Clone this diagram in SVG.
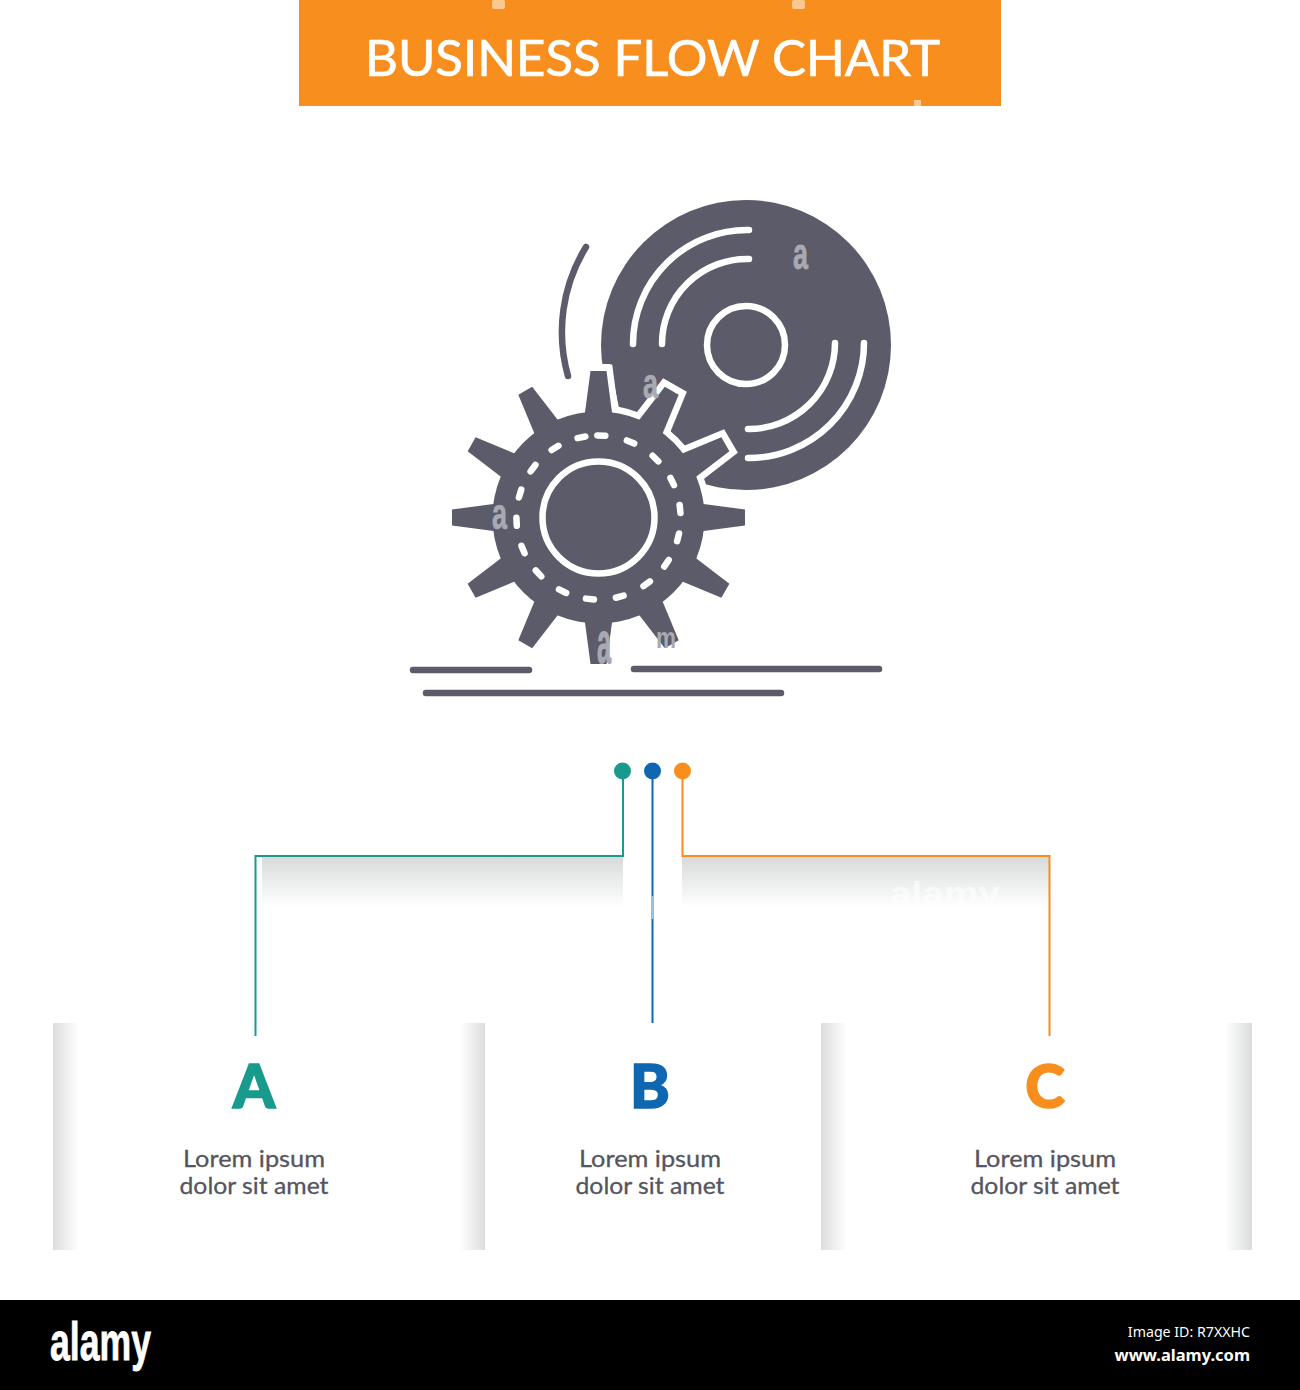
<svg xmlns="http://www.w3.org/2000/svg" xmlns:xlink="http://www.w3.org/1999/xlink" width="1300" height="1390" viewBox="0 0 1300 1390">
<style>
.body{font-family:"Lato","Open Sans","Liberation Sans",sans-serif;font-size:24px;fill:#55555f;stroke:#55555f;stroke-width:.3;text-anchor:middle}
.letter{font-family:"Lato","Liberation Sans",sans-serif;font-weight:900;font-size:60px;stroke-width:1.600;text-anchor:middle}
.icon{fill:#5b5b69}
.cut{fill:none;stroke:#fff;stroke-width:6.500;stroke-linecap:round}
.ink{fill:none;stroke:#5b5b69;stroke-width:6.500;stroke-linecap:round}
.wire{fill:none;stroke-width:2}
.mark{font-family:"Liberation Sans",sans-serif;font-weight:700;font-size:30px;fill:#a9a9b3}
.foot{font-family:"Noto Sans","Open Sans",sans-serif;fill:#fff;text-anchor:end}
</style>
<defs>
<linearGradient id="gl" x1="0" x2="1" y1="0" y2="0"><stop offset="0" stop-color="#dcdddd"/><stop offset="1" stop-color="#fff"/></linearGradient>
<linearGradient id="gr" x1="0" x2="1" y1="0" y2="0"><stop offset="0" stop-color="#fff"/><stop offset="1" stop-color="#dcdddd"/></linearGradient>
<linearGradient id="gd" x1="0" x2="0" y1="0" y2="1"><stop offset="0" stop-color="#d8dada"/><stop offset="1" stop-color="#fff"/></linearGradient>
<polygon id="tooth" points="584,420 590.500,371 606.500,371 613,420"/>
<g id="gearshape">
<circle cx="598.500" cy="517.500" r="106"/>
<use xlink:href="#tooth"/>
<use xlink:href="#tooth" transform="rotate(30 598.500 517.500)"/>
<use xlink:href="#tooth" transform="rotate(60 598.500 517.500)"/>
<use xlink:href="#tooth" transform="rotate(90 598.500 517.500)"/>
<use xlink:href="#tooth" transform="rotate(120 598.500 517.500)"/>
<use xlink:href="#tooth" transform="rotate(150 598.500 517.500)"/>
<use xlink:href="#tooth" transform="rotate(180 598.500 517.500)"/>
<use xlink:href="#tooth" transform="rotate(210 598.500 517.500)"/>
<use xlink:href="#tooth" transform="rotate(240 598.500 517.500)"/>
<use xlink:href="#tooth" transform="rotate(270 598.500 517.500)"/>
<use xlink:href="#tooth" transform="rotate(300 598.500 517.500)"/>
<use xlink:href="#tooth" transform="rotate(330 598.500 517.500)"/>
</g>
<line id="dash" x1="594.500" y1="435.500" x2="602.500" y2="435.500"/>
</defs>
<rect width="1300" height="1390" fill="#fff"/>
<g id="banner">
<rect x="299" y="0" width="702" height="106" fill="#f78e1e"/>
<rect x="492" y="0" width="13" height="9" rx="2" fill="#fbc98f"/>
<rect x="792" y="0" width="13" height="9" rx="2" fill="#fbc98f"/>
<rect x="914" y="100" width="7" height="6" fill="#fbc98f"/>
<text x="652.500" y="76" font-family="Lato,'Open Sans',sans-serif" font-size="50" fill="#fff" stroke="#fff" stroke-width=".7" text-anchor="middle" textLength="575" lengthAdjust="spacingAndGlyphs">BUSINESS FLOW CHART</text>
</g>
<g id="illustration">
<circle class="icon" cx="746" cy="345" r="145"/>
<polygon points="590,364 610,364 619,408 590,420" fill="#fff"/>
<circle class="cut" cx="746" cy="345" r="39"/>
<path class="cut" d="M749 230A114 114 0 0 0 633 344"/>
<path class="cut" d="M749 259A85 85 0 0 0 662 344"/>
<path class="cut" d="M835 343A86 86 0 0 1 748 429"/>
<path class="cut" d="M864 343A115 115 0 0 1 748 458"/>
<path class="ink" d="M586 247A162 162 0 0 0 568 376"/>
<use xlink:href="#gearshape" fill="#fff" stroke="#fff" stroke-width="13" stroke-linejoin="miter"/>
<use xlink:href="#gearshape" class="icon"/>
<circle class="cut" cx="598.500" cy="517.500" r="56"/>
<g class="cut">
<use xlink:href="#dash" transform="rotate(-12 598.500 517.500)"/>
<use xlink:href="#dash" transform="rotate(2 598.500 517.500)"/>
<use xlink:href="#dash" transform="rotate(23 598.500 517.500)"/>
<use xlink:href="#dash" transform="rotate(44 598.500 517.500)"/>
<use xlink:href="#dash" transform="rotate(64 598.500 517.500)"/>
<use xlink:href="#dash" transform="rotate(84 598.500 517.500)"/>
<use xlink:href="#dash" transform="rotate(104 598.500 517.500)"/>
<use xlink:href="#dash" transform="rotate(124 598.500 517.500)"/>
<use xlink:href="#dash" transform="rotate(144 598.500 517.500)"/>
<use xlink:href="#dash" transform="rotate(165 598.500 517.500)"/>
<use xlink:href="#dash" transform="rotate(186 598.500 517.500)"/>
<use xlink:href="#dash" transform="rotate(206 598.500 517.500)"/>
<use xlink:href="#dash" transform="rotate(227 598.500 517.500)"/>
<use xlink:href="#dash" transform="rotate(247 598.500 517.500)"/>
<use xlink:href="#dash" transform="rotate(267 598.500 517.500)"/>
<use xlink:href="#dash" transform="rotate(287 598.500 517.500)"/>
<use xlink:href="#dash" transform="rotate(307 598.500 517.500)"/>
<use xlink:href="#dash" transform="rotate(328 598.500 517.500)"/>
</g>
<rect x="400" y="664.500" width="490" height="10" fill="#fff"/>
<path class="ink" d="M413 670H529M634 669H879M426 693H781"/>
<text class="mark" transform="translate(793 269) scale(.9 1.500)" stroke="#a9a9b3" stroke-width=".5">a</text>
<text class="mark" transform="translate(643 398) scale(.9 1.400)" stroke="#a9a9b3" stroke-width=".5">a</text>
<text class="mark" transform="translate(492 529) scale(.9 1.450)" stroke="#a9a9b3" stroke-width=".5">a</text>
<text class="mark" transform="translate(597 663) scale(.85 2)" stroke="#a9a9b3" stroke-width=".5">a</text>
<text class="mark" transform="translate(656 648) scale(.75 1)">m</text>
</g>
<g id="shades">
<rect x="262" y="857" width="361" height="50" fill="url(#gd)"/>
<rect x="682" y="857" width="367" height="50" fill="url(#gd)"/>
<text x="890" y="905" font-family="'Liberation Sans',sans-serif" font-weight="700" font-size="34" fill="#fff" fill-opacity=".6" textLength="110" lengthAdjust="spacingAndGlyphs">alamy</text>
</g>
<g id="connectors">
<path class="wire" stroke="#189a8c" d="M623 771V856H255.500V1036"/>
<path class="wire" stroke="#0f67b1" stroke-width="1.600" d="M652.500 771V1023"/>
<path class="wire" stroke="#9cc3e2" stroke-width="1.800" d="M652.500 896V919"/>
<path class="wire" stroke="#f78e1e" d="M682.500 771V856H1049.500V1036"/>
<circle cx="622.500" cy="771" r="8.500" fill="#189a8c"/>
<circle cx="652.500" cy="771" r="8.500" fill="#0f67b1"/>
<circle cx="682.500" cy="771" r="8.500" fill="#f78e1e"/>
</g>
<g id="node-a">
<rect x="53" y="1023" width="26" height="227" fill="url(#gl)"/>
<rect x="460" y="1023" width="25" height="227" fill="url(#gr)"/>
<text class="letter" x="254" y="1108" fill="#189a8c" stroke="#189a8c">A</text>
<text class="body" x="254" y="1167" textLength="142" lengthAdjust="spacingAndGlyphs">Lorem ipsum</text>
<text class="body" x="254" y="1194" textLength="149" lengthAdjust="spacingAndGlyphs">dolor sit amet</text>
</g>
<g id="node-b">
<rect x="821" y="1023" width="26" height="227" fill="url(#gl)"/>
<text class="letter" x="650" y="1108" fill="#0f67b1" stroke="#0f67b1">B</text>
<text class="body" x="650" y="1167" textLength="142" lengthAdjust="spacingAndGlyphs">Lorem ipsum</text>
<text class="body" x="650" y="1194" textLength="149" lengthAdjust="spacingAndGlyphs">dolor sit amet</text>
</g>
<g id="node-c">
<rect x="1225" y="1023" width="27" height="227" fill="url(#gr)"/>
<text class="letter" x="1045" y="1108" fill="#f78e1e" stroke="#f78e1e">C</text>
<text class="body" x="1045" y="1167" textLength="142" lengthAdjust="spacingAndGlyphs">Lorem ipsum</text>
<text class="body" x="1045" y="1194" textLength="149" lengthAdjust="spacingAndGlyphs">dolor sit amet</text>
</g>
<g id="footer">
<rect x="0" y="1300" width="1300" height="90" fill="#000"/>
<text x="50" y="1360" font-family="'Liberation Sans',sans-serif" font-weight="700" font-size="54" fill="#fff" stroke="#fff" stroke-width=".8" textLength="101" lengthAdjust="spacingAndGlyphs">alamy</text>
<text class="foot" x="1250" y="1337" font-size="14.200">Image ID: R7XXHC</text>
<text class="foot" x="1250" y="1361" font-size="16.500" font-weight="700">www.alamy.com</text>
</g>
</svg>
